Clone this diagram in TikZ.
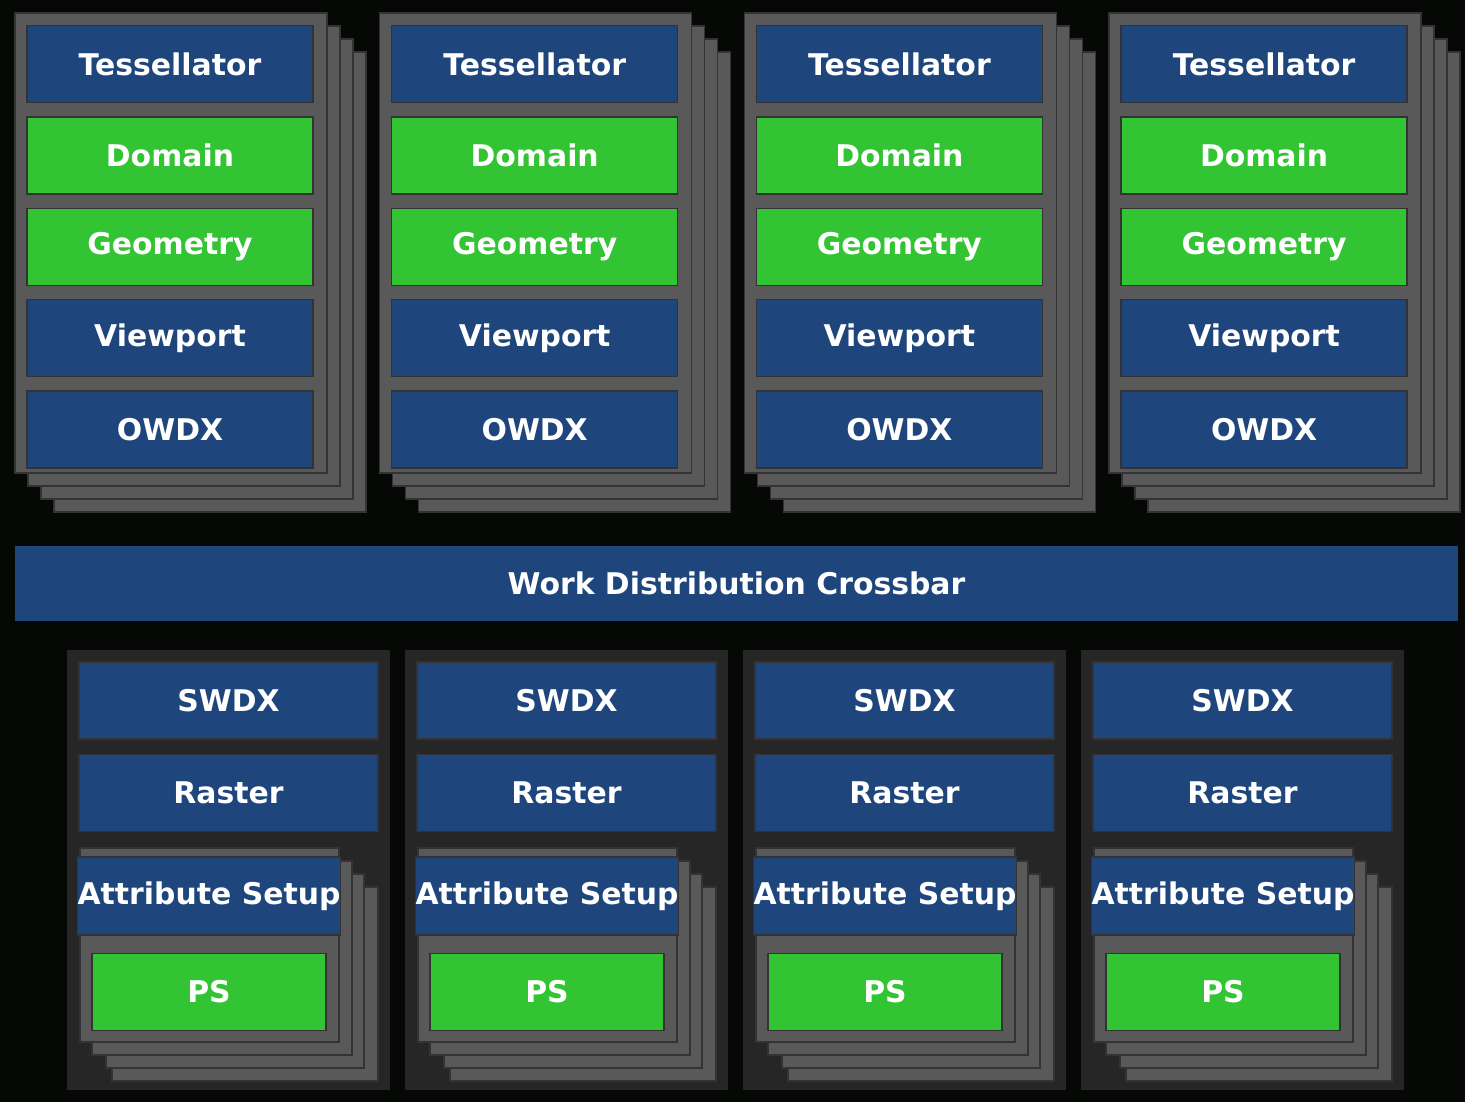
\documentclass[tikz,border=0pt]{standalone}
\usepackage{fontspec}
\setmainfont{DejaVu Sans}
\usetikzlibrary{positioning}
\definecolor{bgblack}{HTML}{050805}
\definecolor{cardgray}{HTML}{595959}
\definecolor{panelgray}{HTML}{262626}
\definecolor{unitblue}{HTML}{1F467C}
\definecolor{unitgreen}{HTML}{33C433}
\tikzstyle{card} = [draw=black!80, fill=cardgray, line width=0.8pt]
\tikzstyle{panel} = [fill=panelgray]
\tikzstyle{unit} = [rectangle, draw=black!80, line width=0.8pt, text=white, font=\fontsize{17}{20}\selectfont\bfseries, inner sep=0pt, text centered]
\tikzstyle{fixed} = [unit, minimum width=5.72cm, minimum height=1.54cm, fill=unitblue]
\tikzstyle{prog} = [unit, minimum width=5.72cm, minimum height=1.54cm, fill=unitgreen]
\tikzstyle{swdx} = [unit, minimum width=5.98cm, minimum height=1.54cm, fill=unitblue]
\tikzstyle{attr} = [unit, minimum width=4.68cm, minimum height=1.56cm, fill=unitblue]
\tikzstyle{ps} = [unit, minimum width=4.68cm, minimum height=1.54cm, fill=unitgreen]

\begin{document}
\begin{tikzpicture}[x=0.02cm, y=-0.02cm]
    \fill[bgblack] (0,0) rectangle (1465,1102);
    % geometry stacks
    \foreach \i in {0,...,3} {
        \begin{scope}[xshift=\i*364.7*0.02cm]
            \foreach \o in {39,26,13,0}
                \draw[card] (15+\o,13+\o) rectangle (327+\o,473+\o);
            \node (tess\i) [fixed] at (170,64) {Tessellator};
            \node (dom\i) [prog, below=0.26cm of tess\i] {Domain};
            \node (geo\i) [prog, below=0.26cm of dom\i] {Geometry};
            \node (view\i) [fixed, below=0.26cm of geo\i] {Viewport};
            \node (owdx\i) [fixed, below=0.26cm of view\i] {OWDX};
        \end{scope}
    }
    \node (xbar) [unit, fill=unitblue, draw=none, minimum width=28.86cm, minimum height=1.5cm] at (736.5,583.5) {Work Distribution Crossbar};
    % raster stacks
    \foreach \i in {0,...,3} {
        \begin{scope}[xshift=\i*338*0.02cm]
            \fill[panel] (67,650) rectangle (390,1090);
            \node (swdx\i) [swdx] at (228.5,700.5) {SWDX};
            \node (rast\i) [swdx, below=0.28cm of swdx\i] {Raster};
            \draw[card] (112,887) rectangle (378,1081);
            \draw[card] (106,874) rectangle (364,1068);
            \draw[card] (92,861) rectangle (352,1055);
            \draw[card] (80,848) rectangle (339,1042);
            \node (attr\i) [attr] at (209,896) {Attribute Setup};
            \node (ps\i) [ps, below=0.34cm of attr\i] {PS};
        \end{scope}
    }
\end{tikzpicture}
\end{document}
